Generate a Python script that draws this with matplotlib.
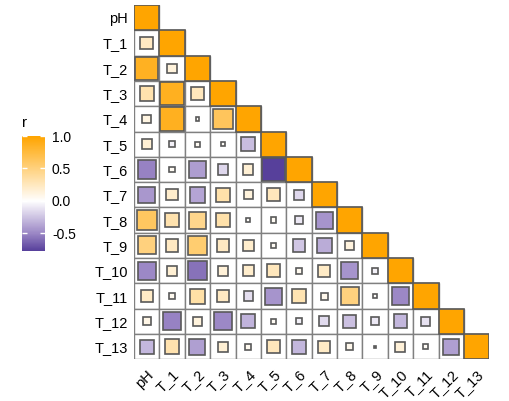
import numpy as np
import matplotlib
matplotlib.use("Agg")
import matplotlib.pyplot as plt
from matplotlib.colors import LinearSegmentedColormap, Normalize
from matplotlib.patches import Rectangle

plt.rcParams["font.family"] = ["Liberation Sans", "DejaVu Sans"]

labels = ["pH", "T_1", "T_2", "T_3", "T_4", "T_5", "T_6", "T_7",
          "T_8", "T_9", "T_10", "T_11", "T_12", "T_13"]

# lower triangle of the correlation matrix, row by row (columns before the diagonal)
lower_rows = [
    [],
    [0.24],
    [0.86, 0.135],
    [0.32, 0.87, 0.26],
    [0.11, 0.87, 0.017, 0.64],
    [0.165, -0.06, 0.045, 0.03, -0.28],
    [-0.52, 0.045, -0.41, -0.165, 0.165, -0.77],
    [-0.43, 0.20, -0.38, 0.33, 0.135, 0.26, -0.165],
    [0.62, 0.32, 0.45, 0.33, 0.02, 0.045, -0.10, -0.45],
    [0.50, 0.24, 0.56, 0.24, 0.20, 0.045, -0.24, -0.35, 0.125],
    [-0.50, 0.165, -0.58, 0.155, 0.20, 0.26, 0.056, 0.22, -0.45, -0.056],
    [0.22, 0.06, 0.35, 0.24, -0.135, -0.45, 0.30, 0.076, 0.50, 0.02, -0.50],
    [0.10, -0.52, 0.135, -0.50, -0.32, 0.045, -0.056, -0.155, -0.26, -0.10, -0.30, -0.125],
    [-0.30, 0.32, -0.40, 0.165, 0.06, 0.26, -0.30, 0.22, 0.076, 0.005, 0.155, 0.039, -0.40],
]

n = len(labels)
corr = np.eye(n)
for i, row in enumerate(lower_rows):
    for j, v in enumerate(row):
        corr[i, j] = v
        corr[j, i] = v

cmap = LinearSegmentedColormap.from_list(
    "pw_or", [(0.0, "#1e0478"), (0.25, "#9c88c6"), (0.5, "#ffffff"), (1.0, "#ffa500")])
norm = Normalize(-1, 1)

fig = plt.figure(figsize=(5.09, 4.01), dpi=100)
ax = fig.add_axes([134 / 509, 1 - 359.3 / 401, 355.3 / 509, 354.3 / 401])

for i in range(n):
    for j in range(i + 1):
        ax.add_patch(Rectangle((j - 0.5, i - 0.5), 1, 1, facecolor="white",
                               edgecolor="#808080", lw=1.0, zorder=1))
for i in range(n):
    for j in range(i + 1):
        r = corr[i, j]
        s = np.sqrt(abs(r))
        ax.add_patch(Rectangle((j - s / 2, i - s / 2), s, s, facecolor=cmap(norm(r)),
                               edgecolor="#595959", lw=1.2, zorder=2))

ax.set_xlim(-0.5, n - 0.5)
ax.set_ylim(n - 0.5, -0.5)
for sp in ax.spines.values():
    sp.set_visible(False)
ax.set_xticks(range(n))
ax.set_yticks(range(n))
ax.set_xticklabels(labels, rotation=45, ha="right", va="top", rotation_mode="anchor")
ax.set_yticklabels(labels)
ax.tick_params(axis="both", length=0, labelsize=10.5, colors="black")
ax.tick_params(axis="x", pad=6)
ax.tick_params(axis="y", pad=4.5)

# colour legend
rmin = corr.min()
cax = fig.add_axes([22 / 509, 1 - 251 / 401, 23 / 509, 115 / 401])
grad = np.linspace(rmin, 1, 256).reshape(-1, 1)
cax.imshow(grad, cmap=cmap, norm=norm, aspect="auto", origin="lower",
           extent=[0, 1, rmin, 1])
cticks = [-0.5, 0.0, 0.5, 1.0]
cax.hlines(cticks, 0, 0.2, colors="white", lw=1)
cax.hlines(cticks, 0.8, 1, colors="white", lw=1)
cax.set_xlim(0, 1)
cax.set_ylim(rmin, 1)
cax.set_xticks([])
cax.yaxis.tick_right()
cax.set_yticks(cticks)
cax.set_yticklabels(["-0.5", "0.0", "0.5", "1.0"])
cax.tick_params(axis="y", length=0, pad=5, labelsize=10, colors="black")
for sp in cax.spines.values():
    sp.set_visible(False)
fig.text(22 / 509, 1 - 123 / 401, "r", fontsize=11, va="center", ha="left")

fig.savefig("out.png", dpi=100)
